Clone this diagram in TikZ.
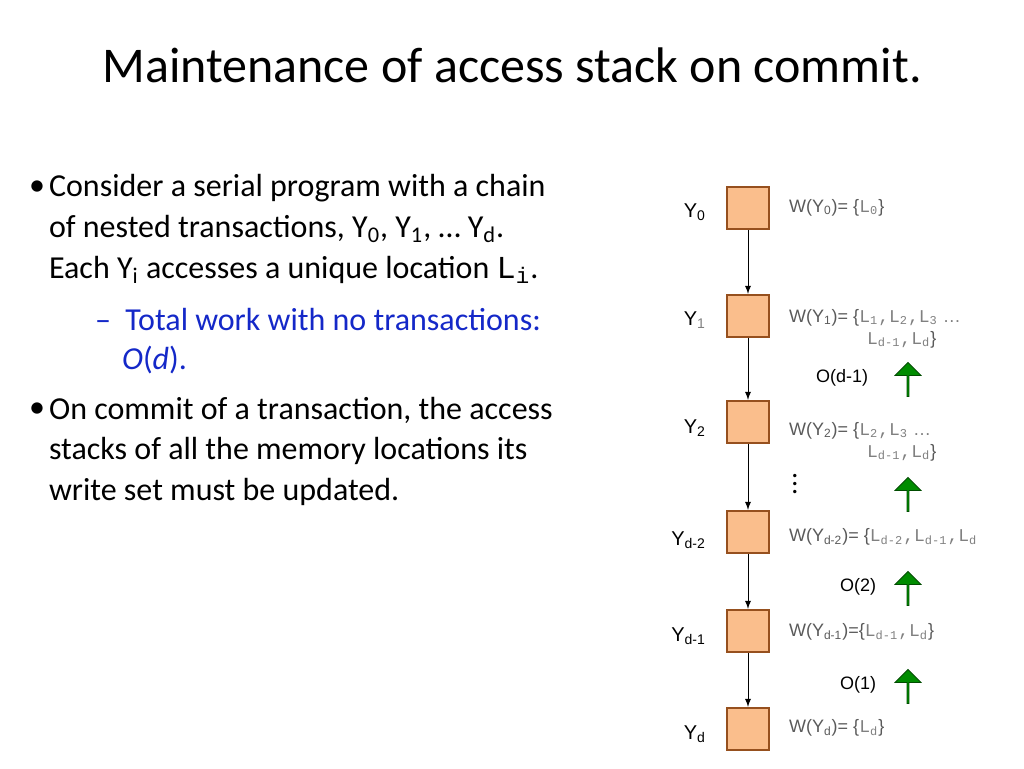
\documentclass[tikz,border=0pt]{standalone}
\usepackage{fontspec}
\setmainfont{Carlito}
\newfontfamily\labfont{Liberation Sans}
\newfontfamily\locfont{Liberation Mono}
\usetikzlibrary{shapes.arrows}
\definecolor{boxfill}{RGB}{250,190,140}
\definecolor{boxline}{RGB}{150,80,30}
\definecolor{txtblue}{RGB}{20,40,200}
\definecolor{wgray}{RGB}{90,90,90}
\newcommand{\Lc}[1]{{\locfont\color{gray}L\textsubscript{#1}}}
\newcommand{\cm}{{\locfont\color{gray},}}
\tikzset{
  txn/.style={draw=boxline, line width=1.2pt, fill=boxfill, minimum size=21pt, inner sep=0pt},
  ylab/.style={font=\labfont\fontsize{10}{12}\selectfont, anchor=east},
  wlab/.style={font=\labfont\fontsize{9}{11}\selectfont, text=wgray, anchor=west, align=left},
  cost/.style={font=\labfont\fontsize{9}{11}\selectfont},
  up/.style={single arrow, draw=green!30!black, fill=green!55!black, rotate=90,
    minimum height=17pt, minimum width=13pt, single arrow head extend=2.5pt, inner sep=0pt},
  line/.style={font=\fontsize{16}{19}\selectfont, anchor=west}
}
\begin{document}
\begin{tikzpicture}[x=0.5pt,y=-0.5pt]
\useasboundingbox (0,0) rectangle (1024,768);

% title
\node[font=\fontsize{25}{30}\selectfont] (title) at (512,65) {Maintenance of access stack on commit.};

% bullets
\node[line] (b1) at (22,188) {\textbullet};
\node[line] (t11) at (42,188) {Consider a serial program with a chain};
\node[line] (t12) at (42,229) {of nested transactions, Y\textsubscript{0}, Y\textsubscript{1}, \ldots\ Y\textsubscript{d}.};
\node[line] (t13) at (42,270) {Each Y\textsubscript{i} accesses a unique location {\locfont L\textsubscript{i}}.};
\node[line, text=txtblue] (s11) at (88,320) {\textendash\ \ Total work with no transactions:};
\node[line, text=txtblue] (s12) at (88,360) {\ \ \ \,\textit{O}(\textit{d}).};
\node[line] (b2) at (22,410) {\textbullet};
\node[line] (t21) at (42,410) {On commit of a transaction, the access};
\node[line] (t22) at (42,451) {stacks of all the memory locations its};
\node[line] (t23) at (42,492) {write set must be updated.};

% chain of transactions
\node[txn] (y0) at (748,208) {};
\node[txn] (y1) at (748,316) {};
\node[txn] (y2) at (748,422) {};
\node[txn] (yd2) at (748,532) {};
\node[txn] (yd1) at (748,631) {};
\node[txn] (yd) at (748,729) {};
\foreach \a/\b in {y0/y1, y1/y2, y2/yd2, yd2/yd1, yd1/yd}
  \draw[-latex] (\a) -- (\b);
\node[font=\fontsize{14}{14}\selectfont] (dots) at (795,478) {$\vdots$};

\node[ylab] (ly0) at (713,212) {Y\textsubscript{0}};
\node[ylab] (ly1) at (713,320) {Y\textsubscript{\color{gray}1}};
\node[ylab] (ly2) at (713,428) {Y\textsubscript{2}};
\node[ylab] (lyd2) at (713,540) {Y\textsubscript{d-2}};
\node[ylab] (lyd1) at (713,636) {Y\textsubscript{d-1}};
\node[ylab] (lyd) at (713,734) {Y\textsubscript{d}};

\node[wlab] (w0) at (782,208) {W(Y\textsubscript{0})= \{\Lc{0}\}};
\node[wlab, anchor=north west] (w1) at (782,302) {W(Y\textsubscript{1})= \{\Lc{1}\cm\Lc{2}\cm\Lc{3} {\color{gray}\ldots}\\
  \hspace*{39pt}\Lc{d-1}\cm\Lc{d}\}};
\node[wlab, anchor=north west] (w2) at (782,415) {W(Y\textsubscript{2})= \{\Lc{2}\cm\Lc{3} {\color{gray}\ldots}\\
  \hspace*{39pt}\Lc{d-1}\cm\Lc{d}\}};
\node[wlab] (wd2) at (782,537) {W(Y\textsubscript{d-2})= \{\Lc{d-2}\cm\Lc{d-1}\cm\Lc{d}};
\node[wlab] (wd1) at (782,632) {W(Y\textsubscript{d-1})=\{\Lc{d-1}\cm\Lc{d}\}};
\node[wlab] (wd) at (782,728) {W(Y\textsubscript{d})= \{\Lc{d}\}};

% costs
\node[up] (a1) at (908,380) {};
\node[up] (a2) at (908,495) {};
\node[up] (a3) at (908,589) {};
\node[up] (a4) at (908,687) {};
\node[cost] (c1) at (842,378) {O(d-1)};
\node[cost] (c3) at (858,587) {O(2)};
\node[cost] (c4) at (858,685) {O(1)};
\end{tikzpicture}
\end{document}
